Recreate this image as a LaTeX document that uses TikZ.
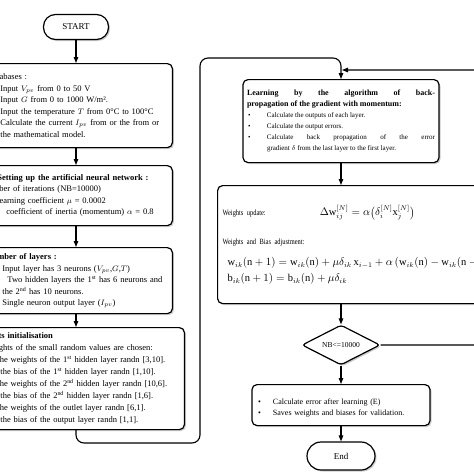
\documentclass[tikz,border=0pt]{standalone}
\usepackage{fontspec}
\setmainfont{Liberation Serif}
\newfontfamily\narrowserif[FakeStretch=0.8]{Liberation Serif}
\usepackage{amsmath}
\usetikzlibrary{arrows.meta, shapes.geometric, shadows}

\newcommand{\boxfont}{\fontsize{8.5}{11.5}\selectfont}
\newcommand{\bitem}[2][20pt]{\par\hangindent=#1\hangafter=1\noindent
  \makebox[#1][l]{\hspace{1pt}\textbullet}#2\par}

\begin{document}
\begin{tikzpicture}[x=1pt, y=-1pt,
  term/.style={draw, line width=1.2pt, rounded corners=12pt, fill=white,
               minimum width=65pt, minimum height=25pt,
               font=\fontsize{9}{11}\selectfont,
               drop shadow={shadow xshift=1.5pt, shadow yshift=-1.5pt, opacity=.4}},
  stepbox/.style={draw, line width=1.2pt, rounded corners=5pt, fill=white,
                  inner xsep=5pt, inner ysep=3pt, font=\boxfont, align=left,
                  drop shadow={shadow xshift=1.5pt, shadow yshift=-1.5pt, opacity=.4}},
  test/.style={diamond, draw, line width=1.2pt, rounded corners=3pt, fill=white,
               aspect=1.95, inner sep=0pt, minimum width=78pt, minimum height=40pt,
               font=\fontsize{7.5}{9}\selectfont,
               drop shadow={shadow xshift=1.5pt, shadow yshift=-1.5pt, opacity=.4}},
  flow/.style={line width=1.1pt, -{Triangle[length=6pt, width=4.5pt]}},
  link/.style={line width=1.1pt}
]
  \useasboundingbox (0,0) rectangle (474,474);
  \fill[white] (0,0) rectangle (474,474);
  \clip (0,0) rectangle (474,474);

  % ── left column ──
  \node[term] (start) at (76,27) {START};

  \node[stepbox, text width=208pt, minimum height=84pt, anchor=north east]
    (data) at (173,63) {%
    \hspace*{28pt}Databases :\\
    \hspace*{41pt}Input $V_{pv}$ from 0 to 50 V\\
    \hspace*{41pt}Input $G$ from 0 to 1000 W/m².\\
    \hspace*{41pt}Input the temperature $T$ from 0°C to 100°C\\
    \hspace*{41pt}Calculate the current $I_{pv}$ from or the from or\\
    \hspace*{41pt}the mathematical model.};

  \node[stepbox, text width=208pt, minimum height=60pt, anchor=north east]
    (net) at (173,165) {%
    \hspace*{38pt}\textbf{Setting up the artificial neural network :}\\
    \hspace*{23pt}Number of iterations (NB=10000)\\
    \hspace*{35pt}Learning coefficient $\mu$ = 0.0002\\
    \hspace*{47pt}coefficient of inertia (momentum) $\alpha$ = 0.8};

  \node[stepbox, text width=208pt, minimum height=66pt, anchor=north east]
    (layers) at (173,247) {%
    \hspace*{27pt}\textbf{Number of layers :}\\
    \hspace*{43pt}Input layer has 3 neurons ($V_{pv}$,$G$,$T$)\\
    \hspace*{48pt}Two hidden layers the 1\textsuperscript{st} has 6 neurons and\\
    \hspace*{43pt}the 2\textsuperscript{nd} has 10 neurons.\\
    \hspace*{43pt}Single neuron output layer ($I_{pv}$)};

  \node[stepbox, text width=220pt, minimum height=102pt, anchor=north east,
        font=\fontsize{8.5}{11.9}\selectfont]
    (init) at (185,327) {%
    \hspace*{16pt}\textbf{Weights initialisation}\\
    \hspace*{26pt}Weights of the small random values are chosen:\\
    \hspace*{38pt}the weights of the 1\textsuperscript{st} hidden layer randn [3,10].\\
    \hspace*{41pt}the bias of the 1\textsuperscript{st} hidden layer randn [1,10].\\
    \hspace*{38pt}the weights of the 2\textsuperscript{nd} hidden layer randn [10,6].\\
    \hspace*{41pt}the bias of the 2\textsuperscript{nd} hidden layer randn [1,6].\\
    \hspace*{38pt}the weights of the outlet layer randn [6,1].\\
    \hspace*{41pt}the bias of the output layer randn [1,1].};

  % ── right column ──
  \node[stepbox, text width=188pt, inner xsep=4pt, minimum height=83pt, anchor=north,
        align=justify, font=\fontsize{7}{11}\selectfont]
    (learn) at (341,79) {%
    {\fontsize{8}{11}\selectfont\bfseries Learning by the algorithm of back-\linebreak
     propagation of the gradient with momentum:\par}
    \bitem{Calculate the outputs of each layer.}
    \bitem{Calculate the output errors.}
    \bitem{Calculate back propagation of the error\linebreak
           gradient $\delta$ from the last layer to the first layer.}};

  \node[stepbox, text width=290pt, minimum height=118pt, anchor=north west,
        font=\fontsize{10.5}{12.5}\selectfont]
    (update) at (217,185) {%
    {\narrowserif\fontsize{8}{10}\selectfont Weights update:}\hspace{54pt}%
    $\Delta \mathrm{w}_{ij}^{[N]}=\alpha\bigl(\delta_i^{[N]}\mathrm{x}_j^{[N]}\bigr)$\\[16pt]
    {\narrowserif\fontsize{8}{10}\selectfont Weights and Bias adjustment:}\\[9pt]
    \hspace*{5pt}$\mathrm{w}_{ik}(\mathrm{n}+1)=\mathrm{w}_{ik}(\mathrm{n})
      +\mu\delta_{ik}\,\mathrm{x}_{i-1}+\alpha\left(\mathrm{w}_{ik}(\mathrm{n})
      -\mathrm{w}_{ik}(\mathrm{n}-1)\right)$\\[3pt]
    \hspace*{5pt}$\mathrm{b}_{ik}(\mathrm{n}+1)=\mathrm{b}_{ik}(\mathrm{n})+\mu\delta_{ik}$};

  \node[test] (nb) at (341,345) {NB<=10000};

  \node[stepbox, text width=168pt, minimum height=41pt, anchor=north,
        font=\fontsize{8}{11}\selectfont]
    (save) at (341,384) {%
    \bitem[16pt]{Calculate error after learning (E)}
    \bitem[16pt]{Saves weights and biases for validation.}};

  \node[term, minimum width=68pt, minimum height=28pt, rounded corners=14pt]
    (end) at (341,456) {End};

  % ── connectors ──
  \draw[flow] (start) -- (start |- data.north);
  \draw[flow] (start |- data.south) -- (start |- net.north);
  \draw[flow] (start |- net.south) -- (start |- layers.north);
  \draw[flow] (start |- layers.south) -- (start |- init.north);

  \coordinate (back) at (200,443);
  \coordinate (over) at (200,58);
  \draw[flow, rounded corners=8pt]
    (start |- init.south) |- (back) -- (over) -| (learn.north);

  \draw[flow] (learn) -- (learn |- update.north);
  \draw[flow] (nb |- update.south) -- (nb);
  \draw[flow] (nb) -- (save);
  \draw[flow] (save) -- (end);

  \coordinate (rback) at (495,70);
  \draw[flow, rounded corners=8pt, shorten >=1pt]
    (nb.east) -| (rback) -- (learn.north |- rback);
\end{tikzpicture}
\end{document}
